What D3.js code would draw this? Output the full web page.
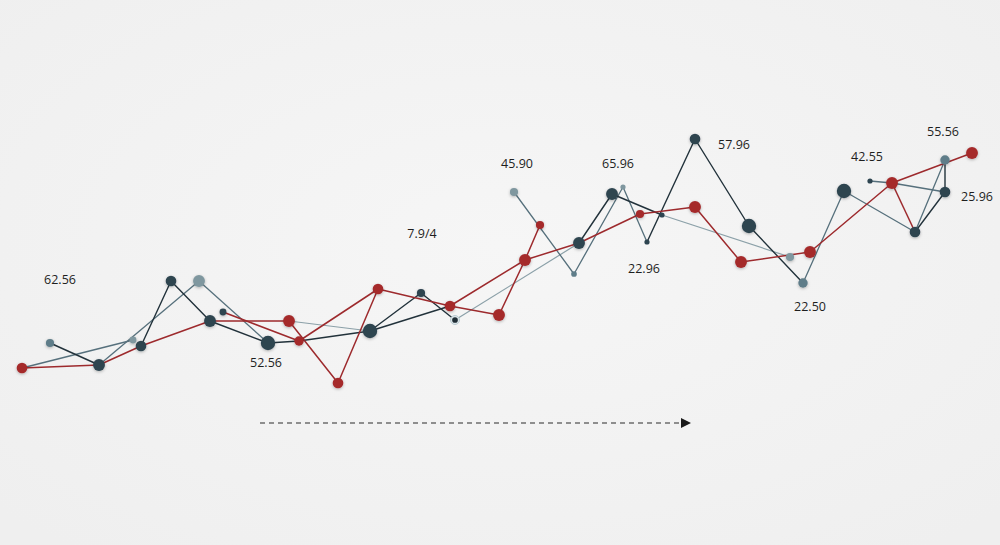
<!DOCTYPE html>
<html><head><meta charset="utf-8">
<script src="https://cdn.jsdelivr.net/npm/d3@7"></script>
<style>
html,body{margin:0;padding:0;background:#f2f2f2;}
svg{display:block;}
</style></head>
<body>
<svg id="chart" width="1000" height="545"></svg>
<script>
// ---- data (x: time units 0..100, y: value units 0..100) ----
const nodeIds    = [1,2,3,4,5,6,7,8,9,10,11,12,13,14,15,16,17,18,19,20,21,22,23,24,25,26,27,28,29,30,31,32,33,34,35,36,37,38,39,40,41,42,43];
const nodeX      = [5.0,2.2,9.9,13.3,14.1,17.1,19.9,21.0,22.3,26.8,28.9,29.9,33.8,37.0,37.8,42.1,45.5,45.0,49.9,51.4,54.0,52.5,57.4,57.9,61.2,62.3,64.0,64.7,66.2,69.5,69.5,74.9,74.1,79.0,80.3,81.0,84.4,87.0,89.2,91.5,94.5,94.5,97.2];
const nodeY      = [39.25,33,33.75,40,38.5,54.75,54.75,44.75,47,39.25,44.75,39.75,29.25,42.25,52.75,51.75,45,48.5,46.25,77,68.75,60,56.5,64.25,76.5,78.25,71.5,64.5,71.25,90.25,73.25,68.5,59.5,60.75,54.25,62,77.25,79.75,79.25,67,77,85,86.75];
const nodeWeight = [2,3,3.5,1.5,3,3,3.5,3.5,1.5,4.5,3.5,2.5,3,4.5,3,2,1,3,3.5,2,2,3.5,1,3.5,3.5,0.8,2,0.8,0.8,3,3.5,4.5,3.5,2,2.5,3.5,4.5,0.8,3.5,3,3,2.5,3.5];
const nodeTone   = ["slate","red","dark","light","dark","dark","light","dark","dark","dark","red","red","red","dark","red","dark","ring","red","red","light","red","red","slate","dark","dark","light","red","dark","dark","dark","red","dark","red","light","slate","red","dark","dark","red","dark","dark","slate","red"];

const redPaths   = [[2,3,5,8,11,13,15,18,19,22,21],[9,12,15],[18,22,24,27,31,33,36,39,43],[39,40]];
const darkPaths  = [[1,3],[5,6,8,10,12,14,16,17],[14,18],[24,25,29],[28,30,32,35],[40,41,42]];
const slatePaths = [[2,4],[3,7],[7,10],[20,23,26,28],[35,37,40,42],[38,39,41]];
const lightPaths = [[11,14],[17,24],[29,34]];

const labelText = ["62.56","52.56","7.9/4","45.90","65.96","22.96","57.96","22.50","42.55","55.56","25.96"];
const labelX    = [6.0,26.6,42.2,51.7,61.8,64.4,73.4,81.0,86.7,94.3,97.7];
const labelY    = [54.75,34,66.25,83.75,83.75,57.5,88.5,48,85.5,91.75,75.5];

const arrowX = [26.0, 69.0];
const arrowY = 19.25;

// ---- scales ----
const W = 1000, H = 545;
const x = d3.scaleLinear().domain([0,100]).range([0,1000]);
const y = d3.scaleLinear().domain([0,100]).range([500,100]);
const r = d3.scaleLinear().domain([0.8,4.5]).range([2.6,7.2]);
const toneFill = {red:"#a5292c", dark:"#2d4450", slate:"#5f7d89", light:"#7f979f", ring:"#1f2d35"};
const strokeCol = {red:"#9d2a2d", dark:"#22323b", slate:"#56707c", light:"#8ba0a8"};

const svg = d3.select("#chart");
const defs = svg.append("defs");
const rg = defs.append("radialGradient").attr("id","bg").attr("cx","50%").attr("cy","45%").attr("r","70%");
rg.append("stop").attr("offset","0%").attr("stop-color","#f6f6f6");
rg.append("stop").attr("offset","100%").attr("stop-color","#efefef");
const f = defs.append("filter").attr("id","sh").attr("x","-50%").attr("y","-50%").attr("width","200%").attr("height","200%");
f.append("feDropShadow").attr("dx",0).attr("dy",1).attr("stdDeviation",1.4).attr("flood-color","#000").attr("flood-opacity",0.28);
const m = defs.append("marker").attr("id","ah").attr("viewBox","0 0 10 10").attr("refX",9).attr("refY",5)
  .attr("markerWidth",10).attr("markerHeight",10).attr("markerUnits","userSpaceOnUse").attr("orient","auto");
m.append("path").attr("d","M0,0L10,5L0,10Z").attr("fill","#1a1a1a");

svg.append("rect").attr("width",W).attr("height",H).attr("fill","url(#bg)");

const byId = new Map(nodeIds.map((id,i)=>[id,i]));
const line = d3.line().x(id=>x(nodeX[byId.get(id)])).y(id=>y(nodeY[byId.get(id)]));

function drawPaths(paths, tone, width){
  svg.append("g").selectAll("path").data(paths).join("path")
    .attr("d", line).attr("fill","none").attr("stroke", strokeCol[tone])
    .attr("stroke-width", width).attr("stroke-linejoin","round");
}
drawPaths(lightPaths,"light",1.2);
drawPaths(slatePaths,"slate",1.3);
drawPaths(darkPaths,"dark",1.4);
drawPaths(redPaths,"red",1.5);

// nodes
const ng = svg.append("g");
nodeIds.forEach((id,i)=>{
  const t = nodeTone[i];
  if(t==="ring"){
    ng.append("circle").attr("cx",x(nodeX[i])).attr("cy",y(nodeY[i])).attr("r",4.5)
      .attr("fill","#dfe8ec").attr("stroke","#b9cbd2").attr("stroke-width",1);
  }
  ng.append("circle").attr("cx",x(nodeX[i])).attr("cy",y(nodeY[i])).attr("r",r(nodeWeight[i]))
    .attr("fill",toneFill[t]).attr("filter", nodeWeight[i]>1.2 ? "url(#sh)" : null);
});

// labels
svg.append("g").selectAll("text").data(labelText).join("text")
  .attr("x",(d,i)=>x(labelX[i])).attr("y",(d,i)=>y(labelY[i]))
  .attr("text-anchor","middle").attr("dominant-baseline","middle")
  .attr("font-family","'Open Sans', 'Noto Sans', sans-serif").attr("font-size",12.5)
  .attr("fill","#1e1e1e").text(d=>d);

// dashed arrow
svg.append("line").attr("x1",x(arrowX[0])).attr("x2",x(arrowX[1])).attr("y1",y(arrowY)).attr("y2",y(arrowY))
  .attr("stroke","#2a2a2a").attr("stroke-width",1.2).attr("stroke-dasharray","5,4").attr("marker-end","url(#ah)");
</script>
</body></html>
